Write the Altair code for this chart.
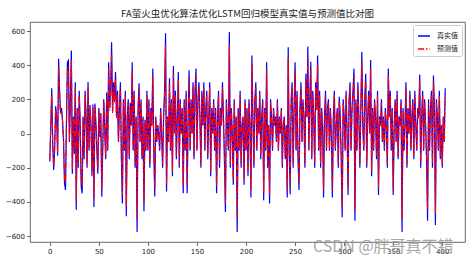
import altair as alt
import pandas as pd

title_text = "FA萤火虫优化算法优化LSTM回归模型真实值与预测值比对图"
series_names = ["真实值", "预测值"]
series_colors = ["#0000ff", "#ff0000"]
x_ticks = [0, 50, 100, 150, 200, 250, 300, 350, 400]
y_ticks = [-600, -400, -200, 0, 200, 400, 600]
watermark = "CSDN @胖哥真不错"

real = [
    -164, 40, 265, -60, -213, -90, 160, 98, -130, 438, 250, 120, 150, 80, -40, -290, -330, 60, 418, 428,
    -50, 200, 486, -235, 100, -120, 300, -446, 150, -200, 250, 60, -310, -350, 100, -150, 250, 100, -200, 302,
    -100, 167, 50, -250, 170, -430, 175, 60, -100, -235, 150, -20, 120, -370, -80, 200, 20, -150, 240, -100,
    418, 150, 250, 535, 130, 300, 200, 360, 100, 250, -50, 150, 300, -150, -410, 200, -100, 250, -484, 100,
    200, -150, 180, 50, 418, -100, 250, -200, 100, -577, 150, 294, -50, 200, -150, 100, -455, 80, -100, 250,
    -100, 200, -200, 150, 50, 380, -100, -368, 100, -50, 50, 0, -100, 150, 0, -200, 100, 250, 587, -339,
    100, -50, 323, -100, 200, -250, 395, 0, 250, -150, 100, 360, -200, 200, 0, 150, -350, 200, -100, 250,
    -350, 100, 370, -100, 200, 0, 300, -150, 250, 380, -100, 200, 300, 100, -200, 250, 50, 300, -100, 150,
    250, -150, 100, 300, -250, 150, 0, 200, -100, 150, -350, 100, 250, -200, 150, 50, 300, 100, -150, -460,
    200, 50, -100, 595, -200, 150, 0, -300, 200, -100, 100, -577, 150, -100, 250, -200, 50, 100, -300, 200,
    -100, 150, -250, 200, 50, -375, 457, 100, -200, 200, 300, -100, 150, 0, 250, -150, 100, 200, -390, 150,
    -100, 418, -200, 50, -410, 200, 100, -100, 150, 50, 100, -50, 200, -100, 100, 0, 150, -200, 50, 100,
    -150, 50, -375, 505, -100, -355, 200, 300, -200, 150, 418, -100, 250, -150, -330, 150, 300, -50, 200, 100,
    -200, 350, 100, 510, -100, 200, 420, -150, 250, 100, -200, 300, 150, 457, -100, 250, -200, 150, 50, -375,
    100, 250, -100, 150, 200, -100, 150, 0, -375, 100, 250, -100, 50, 150, -200, 215, 100, -150, -490, 200,
    100, -100, 250, 0, -360, 200, 300, -100, 150, 250, 380, -510, 200, -100, 300, 100, -200, 150, 477, 50,
    -100, 200, 350, -200, 100, 250, 0, 430, -250, 150, -100, 200, 100, -150, 250, -360, 100, 50, 200, -50,
    100, -100, 150, 50, -200, 380, 100, 250, -100, 150, -360, 50, 200, -50, 250, -150, 100, 50, 200, -577,
    150, -100, 50, 300, -200, 150, 0, 250, -100, 100, 200, -150, 250, 50, -100, 150, 100, 345, -200, 100,
    250, -100, 200, 50, -150, -510, 200, -100, 150, 250, -200, 340, 150, -535, 200, 100, -100, 250, -150, 50,
    -200, 100, -50, 265,
]

pred = [
    -150, 30, 225, -50, -190, -70, 140, 90, -110, 390, 230, 110, 135, 70, -30, -255, -290, 55, 380, 385,
    -40, 180, 430, -210, 90, -100, 270, -395, 135, -175, 225, 55, -270, -310, 90, -130, 225, 90, -175, 270,
    -90, 150, 45, -220, 150, -380, 160, 55, -90, -210, 135, -15, 110, -325, -70, 180, 20, -130, 215, -90,
    375, 135, 225, 470, 120, 270, 180, 320, 90, 225, -45, 135, 270, -130, -360, 180, -90, 225, -425, 90,
    180, -130, 160, 45, 370, -90, 225, -175, 90, -500, 135, 265, -45, 180, -130, 90, -400, 70, -90, 225,
    -90, 180, -175, 135, 45, 340, -90, -325, 90, -45, 45, 0, -90, 135, 0, -175, 90, 225, 515, -300,
    90, -45, 290, -90, 180, -220, 350, 0, 225, -130, 90, 320, -175, 180, 0, 135, -310, 180, -90, 225,
    -310, 90, 330, -90, 180, 0, 270, -130, 225, 340, -90, 180, 270, 90, -175, 225, 45, 270, -90, 135,
    225, -130, 90, 270, -220, 135, 0, 180, -90, 135, -310, 90, 225, -175, 135, 45, 270, 90, -130, -405,
    180, 45, -90, 520, -175, 135, 0, -265, 180, -90, 90, -500, 135, -90, 225, -175, 45, 90, -265, 180,
    -90, 135, -220, 180, 45, -330, 405, 90, -175, 180, 270, -90, 135, 0, 225, -130, 90, 180, -345, 135,
    -90, 370, -175, 45, -360, 180, 90, -90, 135, 45, 90, -45, 180, -90, 90, 0, 135, -175, 45, 90,
    -130, 45, -330, 445, -90, -315, 180, 270, -175, 135, 370, -90, 225, -130, -290, 135, 270, -45, 180, 90,
    -175, 310, 90, 450, -90, 180, 375, -130, 225, 90, -175, 270, 135, 405, -90, 225, -175, 135, 45, -330,
    90, 225, -90, 135, 180, -90, 135, 0, -330, 90, 225, -90, 45, 135, -175, 195, 90, -130, -430, 180,
    90, -90, 225, 0, -320, 180, 270, -90, 135, 225, 340, -450, 180, -90, 270, 90, -175, 135, 420, 45,
    -90, 180, 315, -175, 90, 225, 0, 380, -220, 135, -90, 180, 90, -130, 225, -320, 90, 45, 180, -45,
    90, -90, 135, 45, -175, 340, 90, 225, -90, 135, -320, 45, 180, -45, 225, -130, 90, 45, 180, -500,
    135, -90, 45, 270, -175, 135, 0, 225, -90, 90, 180, -130, 225, 45, -90, 135, 90, 310, -175, 90,
    225, -90, 180, 45, -130, -450, 180, -90, 135, 225, -175, 305, 135, -470, 180, 90, -90, 225, -130, 45,
    -175, 90, -45, 235,
]

n = len(real)
df = pd.DataFrame({
    "i": list(range(n)) + list(range(len(pred))),
    "v": real + pred,
    "s": [series_names[0]] * n + [series_names[1]] * len(pred),
})

legend = alt.Legend(
    title=None, orient="top-right", offset=3, padding=4,
    fillColor="white", strokeColor="#cccccc", cornerRadius=2,
    symbolType="stroke", symbolSize=144, symbolStrokeWidth=1.5,
    labelFontSize=7, labelFont="Noto Sans CJK SC", labelColor="#222222",
    rowPadding=3, labelOffset=6,
)

lines = alt.Chart(df).mark_line(strokeWidth=1.2, clip=True).encode(
    x=alt.X("i:Q", scale=alt.Scale(domain=[-20.15, 423.15], nice=False, zero=False),
            axis=alt.Axis(values=x_ticks, title=None, grid=False, format="d")),
    y=alt.Y("v:Q", scale=alt.Scale(domain=[-635, 653], nice=False, zero=False),
            axis=alt.Axis(values=y_ticks, title=None, grid=False, format="d")),
    color=alt.Color("s:N", scale=alt.Scale(domain=series_names, range=series_colors), legend=legend),
    strokeDash=alt.StrokeDash("s:N", scale=alt.Scale(domain=series_names, range=[[1, 0], [6, 2, 1.5, 2]]), legend=legend),
    order=alt.Order("i:Q"),
)

mark_df = pd.DataFrame({"t": [watermark]})
wm = alt.Chart(mark_df).mark_text(
    align="left", baseline="alphabetic", fontSize=16, color="#999999", opacity=0.85,
    font="Noto Sans CJK SC",
).encode(x=alt.value(283), y=alt.value(230), text="t:N")

chart = alt.layer(lines, wm).properties(
    width=435, height=220,
    title=alt.TitleParams(title_text, fontSize=9.5, font="Noto Sans CJK SC", fontWeight="normal",
                          color="#222222", offset=4, anchor="middle"),
    autosize=alt.AutoSizeParams(type="none"),
    padding={"left": 30, "top": 22, "right": 9, "bottom": 18},
).configure_view(stroke="#444444", strokeWidth=0.8).configure_axis(
    domain=False, tickColor="#444444", tickSize=3.5, tickWidth=0.8,
    labelFontSize=7, labelFont="DejaVu Sans", labelColor="#222222", labelPadding=2,
)

chart.save("out.html", embed_options={"renderer": "svg", "actions": False})
